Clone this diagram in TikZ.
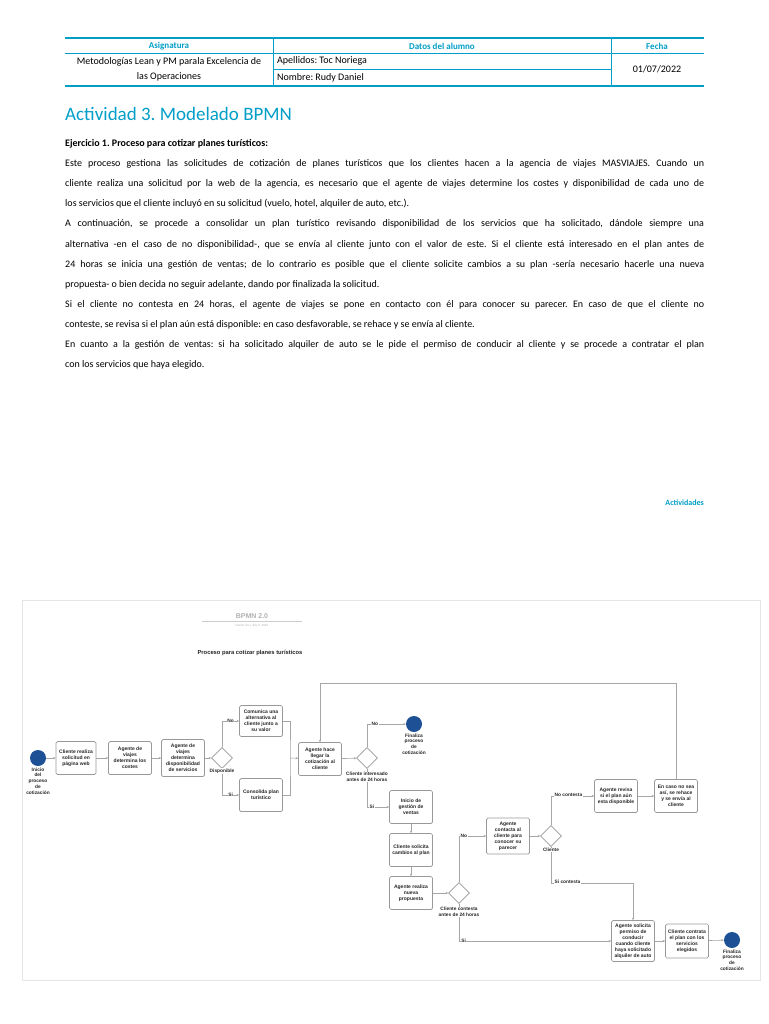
\documentclass[tikz,border=0pt]{standalone}
\usepackage{fontspec}
\setmainfont{Carlito}
\newfontfamily\bpfont{Liberation Sans}
\usetikzlibrary{arrows.meta,shapes.geometric}
\setlength{\parindent}{0pt}
\frenchspacing
\definecolor{actblue}{RGB}{0,158,200}
\definecolor{evblue}{RGB}{30,80,150}
\tikzstyle{task}=[draw=black!40, line width=0.7pt, rounded corners=1.5pt, minimum width=43pt, minimum height=33pt, align=center, inner sep=1pt, font=\bpfont\bfseries\fontsize{5}{6.1}\selectfont, text=black!85]
\tikzstyle{gate}=[draw=black!40, line width=0.7pt, diamond, minimum size=21pt, inner sep=0]
\tikzstyle{evt}=[circle, fill=evblue, minimum size=16pt, inner sep=0]
\tikzstyle{glab}=[align=center, inner sep=0.4pt, fill=white, font=\bpfont\bfseries\fontsize{4.8}{5.9}\selectfont, text=black!85]
\tikzstyle{brk}=[fill=white, inner sep=0.6pt, font=\bpfont\bfseries\fontsize{4.8}{5.9}\selectfont, text=black!85]
\tikzstyle{flow}=[draw=black!35, line width=0.6pt, -{Stealth[length=2.4pt,width=2.2pt]}]
\tikzstyle{hd}=[inner sep=0, text=actblue, font=\bfseries\fontsize{9}{11}\selectfont]
\tikzstyle{cell}=[inner sep=0, align=center, font=\fontsize{10}{15}\selectfont]

\begin{document}
\begin{tikzpicture}[x=1pt,y=-1pt]
\fill[white] (0,0) rectangle (768,1024);
\useasboundingbox (0,0) rectangle (768,1024);
% encabezado
\draw[actblue,line width=1.2pt] (65,38) -- (704,38) (65,86) -- (704,86);
\draw[actblue,line width=0.5pt] (65,53) -- (704,53) (273,38) -- (273,86) (611,38) -- (611,86) (273,69) -- (611,69);
\node[hd] (h1) at (169,46) {Asignatura};
\node[hd] (h2) at (442,46) {Datos del alumno};
\node[hd] (h3) at (657,46) {Fecha};
\node[cell] (asig) at (169,69) {Metodologías Lean y PM parala Excelencia de\\las Operaciones};
\node[cell,anchor=west] (ape) at (277,61) {Apellidos: Toc Noriega};
\node[cell,anchor=west] (nom) at (277,78) {Nombre: Rudy Daniel};
\node[cell] (fec) at (657,69) {01/07/2022};
% enunciado
\node[anchor=base west, inner sep=0, text=actblue, font=\fontsize{19}{22}\selectfont] (tit) at (65,121) {Actividad 3. Modelado BPMN};
\node[anchor=base west, inner sep=0, font=\bfseries\fontsize{10}{12}\selectfont] (ej) at (65,147) {Ejercicio 1. Proceso para cotizar planes turísticos:};
\node[anchor=north west, inner sep=0, text width=639pt, align=justify, font=\fontsize{10}{20.1}\selectfont] (txt) at (65,159.5) {\tolerance=10000\hyphenpenalty=10000
Este proceso gestiona las solicitudes de cotización de planes turísticos que los clientes hacen a la agencia de viajes MASVIAJES. Cuando un\linebreak
cliente realiza una solicitud por la web de la agencia, es necesario que el agente de viajes determine los costes y disponibilidad de cada uno de\linebreak
los servicios que el cliente incluyó en su solicitud (vuelo, hotel, alquiler de auto, etc.).\par
A continuación, se procede a consolidar un plan turístico revisando disponibilidad de los servicios que ha solicitado, dándole siempre una\linebreak
alternativa -en el caso de no disponibilidad-, que se envía al cliente junto con el valor de este. Si el cliente está interesado en el plan antes de\linebreak
24 horas se inicia una gestión de ventas; de lo contrario es posible que el cliente solicite cambios a su plan -sería necesario hacerle una nueva\linebreak
propuesta- o bien decida no seguir adelante, dando por finalizada la solicitud.\par
Si el cliente no contesta en 24 horas, el agente de viajes se pone en contacto con él para conocer su parecer. En caso de que el cliente no\linebreak
conteste, se revisa si el plan aún está disponible: en caso desfavorable, se rehace y se envía al cliente.\par
En cuanto a la gestión de ventas: si ha solicitado alquiler de auto se le pide el permiso de conducir al cliente y se procede a contratar el plan\linebreak
con los servicios que haya elegido.\par};
\node[anchor=east, inner sep=0, text=actblue, font=\bfseries\fontsize{8}{10}\selectfont] (act) at (704,503) {Actividades};
% diagrama
\draw[black!10] (22,600) rectangle (760,980);
\node[inner sep=0, text=black!30, font=\bpfont\bfseries\fontsize{7}{8}\selectfont] (bp) at (252,616) {BPMN 2.0};
\draw[black!20, line width=0.5pt] (202,621.5) -- (302,621.5);
\node[inner sep=0, text=black!30, font=\bpfont\fontsize{3}{4}\selectfont] (aut) at (252,626) {Daniel Toc \textbar{} July 6, 2022};
\node[inner sep=0, text=black!85, font=\bpfont\bfseries\fontsize{5.8}{7}\selectfont] (ptit) at (250,653) {Proceso para cotizar planes turísticos};
\node[evt] (st) at (38,758) {};
\node[glab,anchor=north] (stl) at (38,767) {Inicio\\del\\proceso\\de\\cotización};
\node[task,minimum width=40pt] (b1) at (76,758) {Cliente realiza\\solicitud en\\página web};
\node[task] (b2) at (130,758) {Agente de\\viajes\\determina los\\costes};
\node[task,minimum height=37pt] (b3) at (183,758) {Agente de\\viajes\\determina\\disponibilidad\\de servicios};
\node[gate] (g1) at (222,758) {};
\coordinate (mrg) at (290,758);
\node[task,minimum height=31pt] (alt) at (261,721) {Comunica una\\alternativa al\\cliente junto a\\su valor};
\node[task] (cons) at (261,795) {Consolida plan\\turístico};
\node[task] (cot) at (320,759) {Agente hace\\llegar la\\cotización al\\cliente};
\node[gate] (g2) at (367,758) {};
\node[evt] (f1) at (414,724) {};
\node[glab,anchor=north] (f1l) at (414,733) {Finaliza\\proceso\\de\\cotización};
\node[task] (ini) at (411,807) {Inicio de\\gestión de\\ventas};
\node[task] (cam) at (411,850) {Cliente solicita\\cambios al plan};
\node[task] (nue) at (411,893) {Agente realiza\\nueva\\propuesta};
\node[gate] (g3) at (459,893) {};
\node[task,minimum height=36pt] (cta) at (508,836) {Agente\\contacta al\\cliente para\\conocer su\\parecer};
\node[gate] (g4) at (551,836) {};
\node[task] (rev) at (616,796) {Agente revisa\\si el plan aún\\esta disponible};
\node[task] (reh) at (676,796) {En caso no sea\\así, se rehace\\y se envía al\\cliente};
\node[task,minimum height=41pt] (sol) at (633,941) {Agente solicita\\permiso de\\conducir\\cuando cliente\\haya solicitado\\alquiler de auto};
\node[task,minimum height=34pt] (ctr) at (687,941) {Cliente contrata\\el plan con los\\servicios\\elegidos};
\node[evt] (f2) at (732,940) {};
\node[glab,anchor=north] (f2l) at (732,949) {Finaliza\\proceso\\de\\cotización};
\coordinate (lp) at (320,683);
\coordinate (sc) at (551,883);
\foreach \a/\b in {st/b1,b1/b2,b2/b3,b3/g1,mrg/cot,cot/g2,ini/cam,cam/nue,nue/g3,cta/g4,rev/reh,sol/ctr,ctr/f2}
  \draw[flow] (\a) -- (\b);
\draw[flow] (g1.north) |- node[brk,pos=0.75] {No} (alt.west);
\draw[flow] (g1.south) |- node[brk,pos=0.75] {Si} (cons.west);
\draw[draw=black!35, line width=0.6pt] (alt.east) -| (mrg) |- (cons.east);
\draw[flow] (g2.north) |- node[brk,pos=0.6] {No} (f1.west);
\draw[flow] (g2.south) |- node[brk,pos=0.61] {Si} (ini.west);
\draw[flow] (g3.north) |- node[brk,pos=0.59] {No} (cta.west);
\draw[flow] (g3.south) |- node[brk,pos=0.515] {Si} (sol.west);
\draw[flow] (g4.north) |- node[glab,pos=0.5,anchor=south west,xshift=3pt,yshift=-1.5pt] {No contesta} (rev.west);
\draw[flow] (g4.south) -- (sc) node[glab,anchor=south west,xshift=3pt,yshift=-1.5pt] {Si contesta} -| (sol.north);
\draw[flow] (reh.north) |- (lp) -- (cot.north);
% rotulos de compuertas
\node[glab] (g1l) at (222,771) {Disponible};
\node[glab] (g2l) at (367,777) {Cliente interesado\\antes de 24 horas};
\node[glab] (g3l) at (459,912) {Cliente contesta\\antes de 24 horas};
\node[glab] (g4l) at (551,850) {Cliente};
\end{tikzpicture}
\end{document}
